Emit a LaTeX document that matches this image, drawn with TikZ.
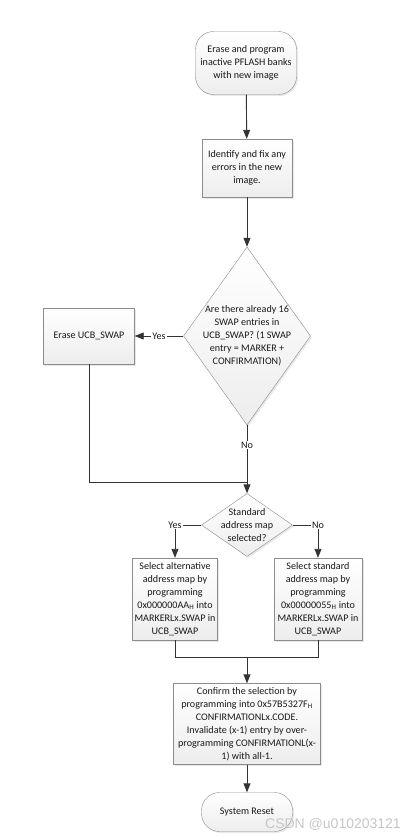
\documentclass[tikz,border=0pt]{standalone}
\usepackage{fontspec}
\setmainfont{Carlito}
\newfontfamily\wmfont{Liberation Sans}
\usetikzlibrary{shapes.geometric,arrows.meta,shadows}

\begin{document}
\begin{tikzpicture}[x=1pt,y=-1pt,
    font=\fontsize{10.1}{13}\selectfont,
    every node/.style={inner sep=0pt, text=black!90},
    base/.style={draw=gray!90, top color=white, bottom color=gray!14, align=center,
      drop shadow={shadow xshift=1.5pt,shadow yshift=-1.5pt,fill=gray!35}},
    term/.style={base, rounded corners=18pt},
    proc/.style={base},
    dec/.style={base, diamond, aspect=1},
    flow/.style={draw=black!80, line width=0.9pt},
    arr/.style={flow, -{Triangle[length=9pt,width=7pt]}},
    lbl/.style={fill=white, inner sep=1pt}]
            \useasboundingbox (0,0) rectangle (408,840);
            % shapes
            \node[term, minimum width=101pt, minimum height=63pt] (image) at (246,63) {Erase and program\\inactive PFLASH banks\\with new image};
            \node[proc, minimum width=90pt, minimum height=58pt] (fix) at (247,168) {Identify and fix any\\errors in the new\\image.};
            \node[dec, minimum width=127pt, minimum height=178pt,
              label={[align=center]center:{Are there already 16\\SWAP entries in\\UCB\_SWAP? (1 SWAP\\entry = MARKER +\\CONFIRMATION)}}] (full) at (247,336) {};
            \node[proc, minimum width=91pt, minimum height=56pt] (erase) at (89,336) {Erase UCB\_SWAP};
            \node[dec, minimum width=91pt, minimum height=63pt,
              label={[align=center]center:{Standard\\address map\\selected?}}] (std) at (247,525) {};
            \node[proc, minimum width=85pt, minimum height=82pt] (alt) at (175,599) {Select alternative\\address map by\\programming\\0x000000AA\textsubscript{H} into\\MARKERLx.SWAP in\\UCB\_SWAP};
            \node[proc, minimum width=88pt, minimum height=82pt] (stdmap) at (318,599) {Select standard\\address map by\\programming\\0x00000055\textsubscript{H} into\\MARKERLx.SWAP in\\UCB\_SWAP};
            \node[proc, minimum width=147pt, minimum height=81pt] (confirm) at (247,724) {Confirm the selection by\\programming into 0x57B5327F\textsubscript{H}\\CONFIRMATIONLx.CODE.\\Invalidate (x-1) entry by over-\\programming CONFIRMATIONL(x-\\1) with all-1.};
            \node[term, minimum width=91pt, minimum height=39pt] (reset) at (247,812) {System Reset};
            \coordinate (join) at (247,482);
            \coordinate (merge) at (247,657);
            % connectors
            \draw[arr] (image) -- (fix);
            \draw[arr] (fix) -- (full);
            \draw[arr] (full.west) -- node[lbl] {Yes} (erase.east);
            \draw[flow] (full.south) -- node[lbl, pos=0.35] {No} (join);
            \draw[flow] (erase.south) |- (join);
            \draw[arr] (join) -- (std);
            \draw[arr] (std.west) -| node[lbl] {Yes} (alt.north);
            \draw[arr] (std.east) -| node[lbl] {No} (stdmap.north);
            \draw[flow] (alt.south) |- (merge);
            \draw[flow] (stdmap.south) |- (merge);
            \draw[arr] (merge) -- (confirm);
            \draw[arr] (confirm) -- (reset);
            % watermark
            \node[font=\wmfont\fontsize{14}{14}\selectfont, text=gray!45] (mark) at (333,824) {CSDN @u010203121};
\end{tikzpicture}
\end{document}
